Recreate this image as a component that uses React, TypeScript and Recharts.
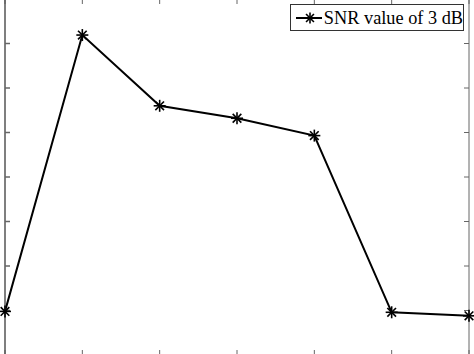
import React from 'react';
import { LineChart, Line, XAxis, YAxis, Legend } from 'recharts';

const categories = ['1', '2', '3', '4', '5', '6', '7'];
const snrValues = [0.98, 7.19, 5.6, 5.32, 4.93, 0.96, 0.88];
const yTicks = [0, 1, 2, 3, 4, 5, 6, 7, 8];
const seriesName = 'SNR value of 3 dB';

const data = categories.map((c, i) => ({ cat: c, snr: snrValues[i] }));

const AXIS = '#666';

const StarShape = ({ cx, cy, size = 6 }: any) => {
  if (cx == null || cy == null) return null;
  const d = size * 0.72;
  return (
    <g stroke="#000" strokeWidth={1.6}>
      <line x1={cx - size} y1={cy} x2={cx + size} y2={cy} />
      <line x1={cx} y1={cy - size} x2={cx} y2={cy + size} />
      <line x1={cx - d} y1={cy - d} x2={cx + d} y2={cy + d} />
      <line x1={cx - d} y1={cy + d} x2={cx + d} y2={cy - d} />
    </g>
  );
};

const renderDot = (props: any) => <StarShape key={`dot-${props.index}`} cx={props.cx} cy={props.cy} />;

const LegendBox = () => (
  <div
    style={{
      boxSizing: 'border-box',
      width: 174,
      height: 27,
      border: '1px solid #333',
      background: '#fff',
      display: 'flex',
      alignItems: 'center',
      paddingLeft: 4,
    }}
  >
    <svg width={30} height={20} style={{ display: 'block' }}>
      <line x1={1} y1={10} x2={29} y2={10} stroke="#000" strokeWidth={2} />
      <StarShape cx={15} cy={10} size={5.5} />
    </svg>
    <span
      style={{
        fontFamily: '"Liberation Serif", "Times New Roman", serif',
        fontSize: 18.3,
        color: '#000',
        marginLeft: 2,
        whiteSpace: 'nowrap',
        lineHeight: '20px',
      }}
    >
      {seriesName}
    </span>
  </div>
);

export default function App() {
  return (
    <div style={{ position: 'fixed', left: 0, top: -1, width: 474, height: 356, background: '#fff' }}>
      <LineChart width={474} height={356} data={data} margin={{ top: 0, right: 5, bottom: 0, left: 5 }}>
        <XAxis
          dataKey="cat"
          xAxisId="bottom"
          orientation="bottom"
          mirror
          tickFormatter={() => ''}
          tickSize={5}
          stroke={AXIS}
          tickLine={{ stroke: AXIS }}
          padding={{ left: 0, right: 0 }}
        />
        <XAxis
          dataKey="cat"
          xAxisId="top"
          orientation="top"
          mirror
          tickFormatter={() => ''}
          tickSize={5}
          stroke={AXIS}
          tickLine={{ stroke: AXIS }}
          padding={{ left: 0, right: 0 }}
        />
        <YAxis
          yAxisId="left"
          orientation="left"
          mirror
          type="number"
          domain={[0, 8]}
          ticks={yTicks}
          tickFormatter={() => ''}
          tickSize={5}
          stroke="#555"
          strokeWidth={1.5}
          tickLine={{ stroke: AXIS }}
        />
        <YAxis
          yAxisId="right"
          orientation="right"
          mirror
          type="number"
          domain={[0, 8]}
          ticks={yTicks}
          tickFormatter={() => ''}
          tickSize={5}
          stroke={AXIS}
          tickLine={{ stroke: AXIS }}
        />
        <Legend
          layout="vertical"
          align="center"
          verticalAlign="middle"
          content={() => <LegendBox />}
          wrapperStyle={{ position: 'absolute', top: 5, left: 290, right: 'auto', bottom: 'auto', width: 174, height: 27 }}
        />
        <Line
          xAxisId="top"
          yAxisId="right"
          dataKey="snr"
          stroke="none"
          dot={false}
          legendType="none"
          isAnimationActive={false}
        />
        <Line
          xAxisId="bottom"
          yAxisId="left"
          dataKey="snr"
          name={seriesName}
          stroke="#000"
          strokeWidth={2}
          dot={renderDot}
          activeDot={false}
          isAnimationActive={false}
        />
      </LineChart>
    </div>
  );
}
